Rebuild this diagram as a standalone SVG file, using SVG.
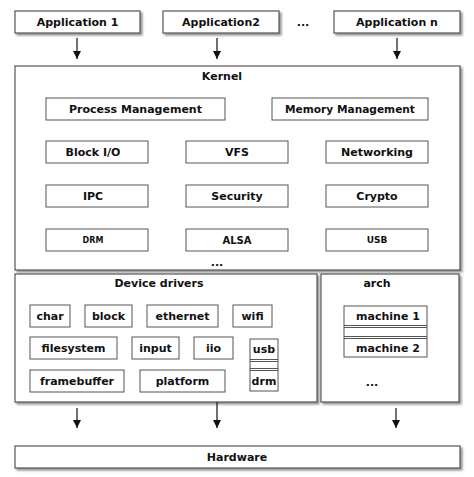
<svg xmlns="http://www.w3.org/2000/svg" width="474" height="477" viewBox="0 0 474 477">
<defs>
<filter id="sh" x="-5%" y="-5%" width="115%" height="130%">
<feDropShadow dx="2" dy="2" stdDeviation="1" flood-color="#777" flood-opacity="0.8"/>
</filter>
<marker id="ah" viewBox="0 0 10 10" refX="9" refY="5" markerWidth="7" markerHeight="7" markerUnits="userSpaceOnUse" orient="auto">
<path d="M0,0 L10,5 L0,10 z" fill="#111"/>
</marker>
<marker id="ah2" viewBox="0 0 10 10" refX="10" refY="5" markerWidth="8" markerHeight="8" orient="auto" markerUnits="userSpaceOnUse">
<path d="M0,0 L10,5 L0,10 z" fill="#111"/>
</marker>
</defs>
<style>
.outer{fill:#fff;stroke:#555;stroke-width:1.2;filter:url(#sh)}
.box{fill:#fff;stroke:#555;stroke-width:1}
.t{font-family:"DejaVu Sans",sans-serif;font-weight:bold;font-size:11px;fill:#111;text-anchor:middle;dominant-baseline:central}
.conn{stroke:#111;stroke-width:1.2;fill:none;marker-end:url(#ah2)}
.sep{stroke:#555;stroke-width:1}
</style>
<rect width="474" height="477" fill="#fff"/>

<g id="app1"><rect class="outer" x="15" y="11" width="125" height="22"/><text class="t" x="77.5" y="22">Application 1</text></g>
<g id="app2"><rect class="outer" x="163" y="11" width="116" height="22"/><text class="t" x="221" y="22">Application2</text></g>
<text class="t" x="303" y="22">...</text>
<g id="appn"><rect class="outer" x="334" y="11" width="126" height="22"/><text class="t" x="397" y="22">Application n</text></g>

<g id="kernel">
<rect class="outer" x="15" y="66" width="445" height="204"/>
<text class="t" x="222" y="76">Kernel</text>
<g id="procmgmt"><rect class="box" x="46" y="98" width="179" height="22"/><text class="t" x="135.5" y="109">Process Management</text></g>
<g id="memmgmt"><rect class="box" x="272" y="98" width="156" height="22"/><text class="t" x="350" y="109" style="font-size:10.6px">Memory Management</text></g>
<g id="blockio"><rect class="box" x="46" y="141" width="102" height="22"/><text class="t" x="93" y="152">Block I/O</text></g>
<g id="vfs"><rect class="box" x="186" y="141" width="102" height="22"/><text class="t" x="237" y="152">VFS</text></g>
<g id="networking"><rect class="box" x="326" y="141" width="102" height="22"/><text class="t" x="377" y="152">Networking</text></g>
<g id="ipc"><rect class="box" x="46" y="185" width="102" height="22"/><text class="t" x="93" y="196">IPC</text></g>
<g id="security"><rect class="box" x="186" y="185" width="102" height="22"/><text class="t" x="237" y="196">Security</text></g>
<g id="crypto"><rect class="box" x="326" y="185" width="102" height="22"/><text class="t" x="377" y="196">Crypto</text></g>
<g id="drm"><rect class="box" x="46" y="229" width="102" height="22"/><text class="t" x="93" y="240" style="font-size:8px">DRM</text></g>
<g id="alsa"><rect class="box" x="186" y="229" width="102" height="22"/><text class="t" x="237" y="240" style="font-size:10px">ALSA</text></g>
<g id="usb"><rect class="box" x="326" y="229" width="102" height="22"/><text class="t" x="377" y="240" style="font-size:9px">USB</text></g>
<text class="t" x="217" y="262">...</text>
</g>

<g id="devdrivers">
<rect class="outer" x="15" y="274" width="302" height="128"/>
<text class="t" x="159" y="283">Device drivers</text>
<g id="char"><rect class="box" x="30" y="305" width="40" height="22"/><text class="t" x="50" y="316">char</text></g>
<g id="block"><rect class="box" x="85" y="305" width="47" height="22"/><text class="t" x="108.5" y="316">block</text></g>
<g id="ethernet"><rect class="box" x="147" y="305" width="71" height="22"/><text class="t" x="182.5" y="316">ethernet</text></g>
<g id="wifi"><rect class="box" x="233" y="305" width="39" height="22"/><text class="t" x="252.5" y="316">wifi</text></g>
<g id="filesystem"><rect class="box" x="30" y="337" width="87" height="22"/><text class="t" x="73.5" y="348">filesystem</text></g>
<g id="input"><rect class="box" x="132" y="337" width="47" height="22"/><text class="t" x="155.5" y="348">input</text></g>
<g id="iio"><rect class="box" x="194" y="337" width="39" height="22"/><text class="t" x="213.5" y="348">iio</text></g>
<g id="usbdrm">
<rect class="box" x="250" y="339" width="28" height="52"/>
<line class="sep" x1="250" y1="359.5" x2="278" y2="359.5"/>
<line class="sep" x1="250" y1="361.5" x2="278" y2="361.5"/>
<line class="sep" x1="250" y1="368.5" x2="278" y2="368.5"/>
<line class="sep" x1="250" y1="370.5" x2="278" y2="370.5"/>
<text class="t" x="264" y="349">usb</text>
<text class="t" x="264" y="381">drm</text>
</g>
<g id="framebuffer"><rect class="box" x="30" y="370" width="94" height="22"/><text class="t" x="77" y="381">framebuffer</text></g>
<g id="platform"><rect class="box" x="140" y="370" width="85" height="22"/><text class="t" x="182.5" y="381">platform</text></g>
</g>

<g id="arch">
<rect class="outer" x="321" y="274" width="138" height="128"/>
<text class="t" x="377" y="283">arch</text>
<g id="machines">
<rect class="box" x="344" y="306" width="83" height="51"/>
<line class="sep" x1="344" y1="325.5" x2="427" y2="325.5"/>
<line class="sep" x1="344" y1="327.5" x2="427" y2="327.5"/>
<line class="sep" x1="344" y1="336.5" x2="427" y2="336.5"/>
<line class="sep" x1="344" y1="338.5" x2="427" y2="338.5"/>
<text class="t" x="388" y="316">machine 1</text>
<text class="t" x="388" y="348">machine 2</text>
</g>
<text class="t" x="372" y="382">...</text>
</g>

<g id="hardware"><rect class="outer" x="15" y="446" width="445" height="22"/><text class="t" x="237" y="457">Hardware</text></g>

<g id="connectors">
<line class="conn" x1="77" y1="38" x2="77" y2="59"/>
<line class="conn" x1="217" y1="38" x2="217" y2="59"/>
<line class="conn" x1="397" y1="38" x2="397" y2="59"/>
<line class="conn" x1="77" y1="408" x2="77" y2="428"/>
<line class="conn" x1="217" y1="402" x2="217" y2="428"/>
<line class="conn" x1="396" y1="408" x2="396" y2="428"/>
</g>
</svg>
